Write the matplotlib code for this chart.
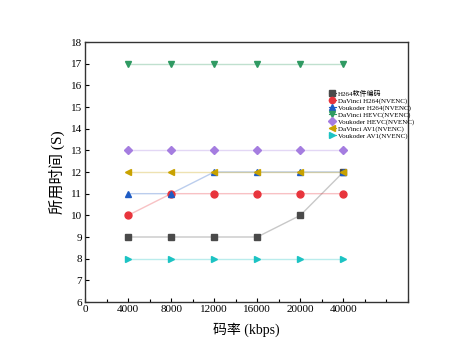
import matplotlib.pyplot as plt
from matplotlib.ticker import MultipleLocator

plt.rcParams['font.family'] = ['Liberation Serif', 'Noto Sans CJK SC']

bitrates = ["4000", "8000", "12000", "16000", "20000", "40000"]

h264_soft = [9, 9, 9, 9, 10, 12]
davinci_h264 = [10, 11, 11, 11, 11, 11]
voukoder_h264 = [11, 11, 12, 12, 12, 12]
davinci_hevc = [17, 17, 17, 17, 17, 17]
voukoder_hevc = [13, 13, 13, 13, 13, 13]
davinci_av1 = [12, 12, 12, 12, 12, 12]
voukoder_av1 = [8, 8, 8, 8, 8, 8]

series = [
    ("H264软件编码", h264_soft, "s", "#4a4a4a"),
    ("DaVinci H264(NVENC)", davinci_h264, "o", "#e8343c"),
    ("Voukoder H264(NVENC)", voukoder_h264, "^", "#1f5cc4"),
    ("DaVinci HEVC(NVENC)", davinci_hevc, "v", "#2f9a62"),
    ("Voukoder HEVC(NVENC)", voukoder_hevc, "D", "#a57de0"),
    ("DaVinci AV1(NVENC)", davinci_av1, "<", "#c9a200"),
    ("Voukoder AV1(NVENC)", voukoder_av1, ">", "#1cc3c3"),
]

fig = plt.figure(figsize=(4.74, 3.62), dpi=100)
ax = fig.add_axes([85 / 474, 1 - 302 / 362, (408 - 85) / 474, (302 - 42) / 362])

x = list(range(1, len(bitrates) + 1))
for i, (name, vals, mk, col) in enumerate(series):
    ax.plot(x, vals, color=col, alpha=0.3, linewidth=1, zorder=1)
    ax.plot(x, vals, linestyle="none", marker=mk, color=col,
            markersize=5 if mk != "D" else 4.2, zorder=2 + i)

# legend handles with line + marker
handles = []
for name, vals, mk, col in series:
    h, = ax.plot([], [], color=col, marker=mk, markersize=4.5 if mk != "D" else 3.8,
                 linewidth=0.8, label=name)
    handles.append(h)
ax.legend(handles=handles, loc="upper left", bbox_to_anchor=(0.74, 0.835),
          fontsize=5, frameon=False, handlelength=1.0, handletextpad=0.3,
          labelspacing=0.12, borderpad=0.2)

ax.set_xlim(0, 7.5)
ax.set_ylim(6, 18)
ax.set_xticks([0] + x)
ax.set_xticklabels(["0"] + bitrates)
ax.xaxis.set_minor_locator(MultipleLocator(0.5))
ax.yaxis.set_major_locator(MultipleLocator(1))
ax.tick_params(axis="both", which="major", direction="in", length=3, width=0.8,
               labelsize=8, pad=2)
ax.tick_params(axis="x", which="minor", direction="in", length=2, width=0.8)
ax.tick_params(top=False, right=False)
for s in ax.spines.values():
    s.set_linewidth(1.0)
    s.set_color("#333333")

ax.set_xlabel("码率 (kbps)", fontsize=10, labelpad=6)
ax.set_ylabel("所用时间 (S)", fontsize=11, labelpad=4)

fig.savefig("out.png", dpi=100)
